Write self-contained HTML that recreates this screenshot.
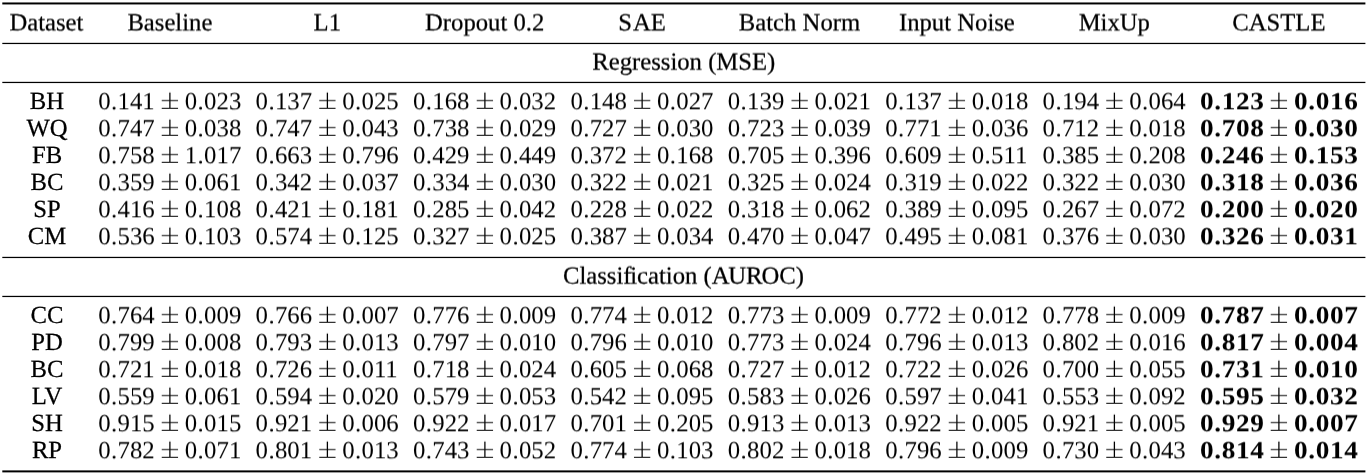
<!DOCTYPE html>
<html lang="en">
<head>
<meta charset="utf-8">
<title>Results table</title>
<style>
html,body{margin:0;padding:0;background:#fff;}
body{width:1370px;height:474px;position:relative;overflow:hidden;font-family:"Liberation Serif",serif;color:#000;text-rendering:geometricPrecision;}
.rules{position:absolute;left:0;top:0;}
.fa{filter:url(#dya);}
.fb{filter:url(#dyb);}
.n,.b{filter:url(#dyc);}
.p{filter:url(#dyd);}
.rules rect{fill:#000;}
.t,.n,.b,.p{position:absolute;white-space:nowrap;line-height:1;}
.t{-webkit-text-stroke:0.25px #000;}
.n .d{margin-left:0.4px;letter-spacing:0.3px;}
.t{font-size:24.7px;transform:translateX(-50%);}
.n{font-size:24.8px;}
.b{font-size:24.8px;font-weight:bold;letter-spacing:0.56px;transform:scaleX(1.1);transform-origin:0 0;}
.p{font-size:26.0px;font-family:"DejaVu Sans Light","DejaVu Sans",sans-serif;font-weight:200;}
.p span{display:block;clip-path:inset(18.5px 0 0 0);}
.p::after{content:"+";position:absolute;left:0;top:0;}
</style>
</head>
<body>
<svg class="rules" width="1370" height="474" viewBox="0 0 1370 474" aria-hidden="true">
<defs>
<filter id="dya" color-interpolation-filters="sRGB"><feConvolveMatrix order="1 2" kernelMatrix="0.56 0.44" divisor="1" edgeMode="none" preserveAlpha="false"/></filter>
<filter id="dyb" color-interpolation-filters="sRGB"><feConvolveMatrix order="1 2" kernelMatrix="0.35 0.65" divisor="1" edgeMode="none" preserveAlpha="false"/></filter>
<filter id="dyc" color-interpolation-filters="sRGB"><feConvolveMatrix order="1 2" kernelMatrix="0.68 0.32" divisor="1" edgeMode="none" preserveAlpha="false"/></filter>
<filter id="dyd" color-interpolation-filters="sRGB"><feConvolveMatrix order="1 2" targetY="0" kernelMatrix="0.2 0.8" divisor="1" edgeMode="none" preserveAlpha="false"/></filter>
</defs>
<rect x="2.3" y="2.46" width="1363.1" height="1.98"/>
<rect x="2.3" y="42.83" width="1363.1" height="1.24"/>
<rect x="2.3" y="81.83" width="1363.1" height="1.24"/>
<rect x="2.3" y="256.83" width="1363.1" height="1.24"/>
<rect x="2.3" y="295.83" width="1363.1" height="1.24"/>
<rect x="2.3" y="470.4" width="1363.1" height="1.98"/>
</svg>
<div role="table" aria-label="Regression (MSE) and classification (AUROC) results">
<div role="row">
<div role="columnheader" class="t fa" style="left:46.4px;top:11px">Dataset</div>
<div role="columnheader" class="t fa" style="left:169.9px;top:11px">Baseline</div>
<div role="columnheader" class="t fa" style="left:327.3px;top:11px">L1</div>
<div role="columnheader" class="t fa" style="left:484.7px;top:11px">Dropout 0.2</div>
<div role="columnheader" class="t fa" style="left:642.1px;top:11px"><span style="letter-spacing:1px">S</span>AE</div>
<div role="columnheader" class="t fa" style="left:799.5px;top:11px">Batch Norm</div>
<div role="columnheader" class="t fa" style="left:956.9px;top:11px">Input Noise</div>
<div role="columnheader" class="t fa" style="left:1114.3px;top:11px">MixUp</div>
<div role="columnheader" class="t fa" style="left:1278.9px;top:11px">CASTLE</div>
</div>
<div role="row"><div role="cell" class="t fb" style="left:683.8px;top:50px">Regression (MSE)</div></div>
<div role="row">
<div role="rowheader" class="t" style="left:47.0px;top:90px">BH</div>
<div role="cell"><span class="n" style="left:98.2px;top:90px">0<span class="d">.</span>141</span><span class="p" style="left:159.1px;top:88px"><span>±</span></span><span class="n" style="left:184.8px;top:90px">0<span class="d">.</span>023</span></div>
<div role="cell"><span class="n" style="left:255.6px;top:90px">0<span class="d">.</span>137</span><span class="p" style="left:316.5px;top:88px"><span>±</span></span><span class="n" style="left:342.2px;top:90px">0<span class="d">.</span>025</span></div>
<div role="cell"><span class="n" style="left:413.0px;top:90px">0<span class="d">.</span>168</span><span class="p" style="left:473.9px;top:88px"><span>±</span></span><span class="n" style="left:499.6px;top:90px">0<span class="d">.</span>032</span></div>
<div role="cell"><span class="n" style="left:570.4px;top:90px">0<span class="d">.</span>148</span><span class="p" style="left:631.3px;top:88px"><span>±</span></span><span class="n" style="left:657.0px;top:90px">0<span class="d">.</span>027</span></div>
<div role="cell"><span class="n" style="left:727.8px;top:90px">0<span class="d">.</span>139</span><span class="p" style="left:788.7px;top:88px"><span>±</span></span><span class="n" style="left:814.4px;top:90px">0<span class="d">.</span>021</span></div>
<div role="cell"><span class="n" style="left:885.2px;top:90px">0<span class="d">.</span>137</span><span class="p" style="left:946.1px;top:88px"><span>±</span></span><span class="n" style="left:971.8px;top:90px">0<span class="d">.</span>018</span></div>
<div role="cell"><span class="n" style="left:1042.6px;top:90px">0<span class="d">.</span>194</span><span class="p" style="left:1103.5px;top:88px"><span>±</span></span><span class="n" style="left:1129.2px;top:90px">0<span class="d">.</span>064</span></div>
<div role="cell"><span class="b" style="left:1200.0px;top:90px">0<span class="d">.</span>123</span><span class="p" style="left:1267.9px;top:88px"><span>±</span></span><span class="b" style="left:1293.9px;top:90px">0<span class="d">.</span>016</span></div>
</div>
<div role="row">
<div role="rowheader" class="t" style="left:47.0px;top:117px">WQ</div>
<div role="cell"><span class="n" style="left:98.2px;top:117px">0<span class="d">.</span>747</span><span class="p" style="left:159.1px;top:115px"><span>±</span></span><span class="n" style="left:184.8px;top:117px">0<span class="d">.</span>038</span></div>
<div role="cell"><span class="n" style="left:255.6px;top:117px">0<span class="d">.</span>747</span><span class="p" style="left:316.5px;top:115px"><span>±</span></span><span class="n" style="left:342.2px;top:117px">0<span class="d">.</span>043</span></div>
<div role="cell"><span class="n" style="left:413.0px;top:117px">0<span class="d">.</span>738</span><span class="p" style="left:473.9px;top:115px"><span>±</span></span><span class="n" style="left:499.6px;top:117px">0<span class="d">.</span>029</span></div>
<div role="cell"><span class="n" style="left:570.4px;top:117px">0<span class="d">.</span>727</span><span class="p" style="left:631.3px;top:115px"><span>±</span></span><span class="n" style="left:657.0px;top:117px">0<span class="d">.</span>030</span></div>
<div role="cell"><span class="n" style="left:727.8px;top:117px">0<span class="d">.</span>723</span><span class="p" style="left:788.7px;top:115px"><span>±</span></span><span class="n" style="left:814.4px;top:117px">0<span class="d">.</span>039</span></div>
<div role="cell"><span class="n" style="left:885.2px;top:117px">0<span class="d">.</span>771</span><span class="p" style="left:946.1px;top:115px"><span>±</span></span><span class="n" style="left:971.8px;top:117px">0<span class="d">.</span>036</span></div>
<div role="cell"><span class="n" style="left:1042.6px;top:117px">0<span class="d">.</span>712</span><span class="p" style="left:1103.5px;top:115px"><span>±</span></span><span class="n" style="left:1129.2px;top:117px">0<span class="d">.</span>018</span></div>
<div role="cell"><span class="b" style="left:1200.0px;top:117px">0<span class="d">.</span>708</span><span class="p" style="left:1267.9px;top:115px"><span>±</span></span><span class="b" style="left:1293.9px;top:117px">0<span class="d">.</span>030</span></div>
</div>
<div role="row">
<div role="rowheader" class="t" style="left:47.0px;top:144px">FB</div>
<div role="cell"><span class="n" style="left:98.2px;top:144px">0<span class="d">.</span>758</span><span class="p" style="left:159.1px;top:142px"><span>±</span></span><span class="n" style="left:184.8px;top:144px">1<span class="d">.</span>017</span></div>
<div role="cell"><span class="n" style="left:255.6px;top:144px">0<span class="d">.</span>663</span><span class="p" style="left:316.5px;top:142px"><span>±</span></span><span class="n" style="left:342.2px;top:144px">0<span class="d">.</span>796</span></div>
<div role="cell"><span class="n" style="left:413.0px;top:144px">0<span class="d">.</span>429</span><span class="p" style="left:473.9px;top:142px"><span>±</span></span><span class="n" style="left:499.6px;top:144px">0<span class="d">.</span>449</span></div>
<div role="cell"><span class="n" style="left:570.4px;top:144px">0<span class="d">.</span>372</span><span class="p" style="left:631.3px;top:142px"><span>±</span></span><span class="n" style="left:657.0px;top:144px">0<span class="d">.</span>168</span></div>
<div role="cell"><span class="n" style="left:727.8px;top:144px">0<span class="d">.</span>705</span><span class="p" style="left:788.7px;top:142px"><span>±</span></span><span class="n" style="left:814.4px;top:144px">0<span class="d">.</span>396</span></div>
<div role="cell"><span class="n" style="left:885.2px;top:144px">0<span class="d">.</span>609</span><span class="p" style="left:946.1px;top:142px"><span>±</span></span><span class="n" style="left:971.8px;top:144px">0<span class="d">.</span>511</span></div>
<div role="cell"><span class="n" style="left:1042.6px;top:144px">0<span class="d">.</span>385</span><span class="p" style="left:1103.5px;top:142px"><span>±</span></span><span class="n" style="left:1129.2px;top:144px">0<span class="d">.</span>208</span></div>
<div role="cell"><span class="b" style="left:1200.0px;top:144px">0<span class="d">.</span>246</span><span class="p" style="left:1267.9px;top:142px"><span>±</span></span><span class="b" style="left:1293.9px;top:144px">0<span class="d">.</span>153</span></div>
</div>
<div role="row">
<div role="rowheader" class="t" style="left:47.0px;top:171px">BC</div>
<div role="cell"><span class="n" style="left:98.2px;top:171px">0<span class="d">.</span>359</span><span class="p" style="left:159.1px;top:169px"><span>±</span></span><span class="n" style="left:184.8px;top:171px">0<span class="d">.</span>061</span></div>
<div role="cell"><span class="n" style="left:255.6px;top:171px">0<span class="d">.</span>342</span><span class="p" style="left:316.5px;top:169px"><span>±</span></span><span class="n" style="left:342.2px;top:171px">0<span class="d">.</span>037</span></div>
<div role="cell"><span class="n" style="left:413.0px;top:171px">0<span class="d">.</span>334</span><span class="p" style="left:473.9px;top:169px"><span>±</span></span><span class="n" style="left:499.6px;top:171px">0<span class="d">.</span>030</span></div>
<div role="cell"><span class="n" style="left:570.4px;top:171px">0<span class="d">.</span>322</span><span class="p" style="left:631.3px;top:169px"><span>±</span></span><span class="n" style="left:657.0px;top:171px">0<span class="d">.</span>021</span></div>
<div role="cell"><span class="n" style="left:727.8px;top:171px">0<span class="d">.</span>325</span><span class="p" style="left:788.7px;top:169px"><span>±</span></span><span class="n" style="left:814.4px;top:171px">0<span class="d">.</span>024</span></div>
<div role="cell"><span class="n" style="left:885.2px;top:171px">0<span class="d">.</span>319</span><span class="p" style="left:946.1px;top:169px"><span>±</span></span><span class="n" style="left:971.8px;top:171px">0<span class="d">.</span>022</span></div>
<div role="cell"><span class="n" style="left:1042.6px;top:171px">0<span class="d">.</span>322</span><span class="p" style="left:1103.5px;top:169px"><span>±</span></span><span class="n" style="left:1129.2px;top:171px">0<span class="d">.</span>030</span></div>
<div role="cell"><span class="b" style="left:1200.0px;top:171px">0<span class="d">.</span>318</span><span class="p" style="left:1267.9px;top:169px"><span>±</span></span><span class="b" style="left:1293.9px;top:171px">0<span class="d">.</span>036</span></div>
</div>
<div role="row">
<div role="rowheader" class="t" style="left:47.0px;top:198px">SP</div>
<div role="cell"><span class="n" style="left:98.2px;top:198px">0<span class="d">.</span>416</span><span class="p" style="left:159.1px;top:196px"><span>±</span></span><span class="n" style="left:184.8px;top:198px">0<span class="d">.</span>108</span></div>
<div role="cell"><span class="n" style="left:255.6px;top:198px">0<span class="d">.</span>421</span><span class="p" style="left:316.5px;top:196px"><span>±</span></span><span class="n" style="left:342.2px;top:198px">0<span class="d">.</span>181</span></div>
<div role="cell"><span class="n" style="left:413.0px;top:198px">0<span class="d">.</span>285</span><span class="p" style="left:473.9px;top:196px"><span>±</span></span><span class="n" style="left:499.6px;top:198px">0<span class="d">.</span>042</span></div>
<div role="cell"><span class="n" style="left:570.4px;top:198px">0<span class="d">.</span>228</span><span class="p" style="left:631.3px;top:196px"><span>±</span></span><span class="n" style="left:657.0px;top:198px">0<span class="d">.</span>022</span></div>
<div role="cell"><span class="n" style="left:727.8px;top:198px">0<span class="d">.</span>318</span><span class="p" style="left:788.7px;top:196px"><span>±</span></span><span class="n" style="left:814.4px;top:198px">0<span class="d">.</span>062</span></div>
<div role="cell"><span class="n" style="left:885.2px;top:198px">0<span class="d">.</span>389</span><span class="p" style="left:946.1px;top:196px"><span>±</span></span><span class="n" style="left:971.8px;top:198px">0<span class="d">.</span>095</span></div>
<div role="cell"><span class="n" style="left:1042.6px;top:198px">0<span class="d">.</span>267</span><span class="p" style="left:1103.5px;top:196px"><span>±</span></span><span class="n" style="left:1129.2px;top:198px">0<span class="d">.</span>072</span></div>
<div role="cell"><span class="b" style="left:1200.0px;top:198px">0<span class="d">.</span>200</span><span class="p" style="left:1267.9px;top:196px"><span>±</span></span><span class="b" style="left:1293.9px;top:198px">0<span class="d">.</span>020</span></div>
</div>
<div role="row">
<div role="rowheader" class="t" style="left:47.0px;top:225px">CM</div>
<div role="cell"><span class="n" style="left:98.2px;top:225px">0<span class="d">.</span>536</span><span class="p" style="left:159.1px;top:223px"><span>±</span></span><span class="n" style="left:184.8px;top:225px">0<span class="d">.</span>103</span></div>
<div role="cell"><span class="n" style="left:255.6px;top:225px">0<span class="d">.</span>574</span><span class="p" style="left:316.5px;top:223px"><span>±</span></span><span class="n" style="left:342.2px;top:225px">0<span class="d">.</span>125</span></div>
<div role="cell"><span class="n" style="left:413.0px;top:225px">0<span class="d">.</span>327</span><span class="p" style="left:473.9px;top:223px"><span>±</span></span><span class="n" style="left:499.6px;top:225px">0<span class="d">.</span>025</span></div>
<div role="cell"><span class="n" style="left:570.4px;top:225px">0<span class="d">.</span>387</span><span class="p" style="left:631.3px;top:223px"><span>±</span></span><span class="n" style="left:657.0px;top:225px">0<span class="d">.</span>034</span></div>
<div role="cell"><span class="n" style="left:727.8px;top:225px">0<span class="d">.</span>470</span><span class="p" style="left:788.7px;top:223px"><span>±</span></span><span class="n" style="left:814.4px;top:225px">0<span class="d">.</span>047</span></div>
<div role="cell"><span class="n" style="left:885.2px;top:225px">0<span class="d">.</span>495</span><span class="p" style="left:946.1px;top:223px"><span>±</span></span><span class="n" style="left:971.8px;top:225px">0<span class="d">.</span>081</span></div>
<div role="cell"><span class="n" style="left:1042.6px;top:225px">0<span class="d">.</span>376</span><span class="p" style="left:1103.5px;top:223px"><span>±</span></span><span class="n" style="left:1129.2px;top:225px">0<span class="d">.</span>030</span></div>
<div role="cell"><span class="b" style="left:1200.0px;top:225px">0<span class="d">.</span>326</span><span class="p" style="left:1267.9px;top:223px"><span>±</span></span><span class="b" style="left:1293.9px;top:225px">0<span class="d">.</span>031</span></div>
</div>
<div role="row"><div role="cell" class="t fb" style="left:683.5px;top:264px">Classi<span style="letter-spacing:-1.35px">f</span>ication (<span style="letter-spacing:-1.36px">A</span>U<span style="letter-spacing:-1px">R</span>OC)</div></div>
<div role="row">
<div role="rowheader" class="t" style="left:47.0px;top:304px">CC</div>
<div role="cell"><span class="n" style="left:98.2px;top:304px">0<span class="d">.</span>764</span><span class="p" style="left:159.1px;top:302px"><span>±</span></span><span class="n" style="left:184.8px;top:304px">0<span class="d">.</span>009</span></div>
<div role="cell"><span class="n" style="left:255.6px;top:304px">0<span class="d">.</span>766</span><span class="p" style="left:316.5px;top:302px"><span>±</span></span><span class="n" style="left:342.2px;top:304px">0<span class="d">.</span>007</span></div>
<div role="cell"><span class="n" style="left:413.0px;top:304px">0<span class="d">.</span>776</span><span class="p" style="left:473.9px;top:302px"><span>±</span></span><span class="n" style="left:499.6px;top:304px">0<span class="d">.</span>009</span></div>
<div role="cell"><span class="n" style="left:570.4px;top:304px">0<span class="d">.</span>774</span><span class="p" style="left:631.3px;top:302px"><span>±</span></span><span class="n" style="left:657.0px;top:304px">0<span class="d">.</span>012</span></div>
<div role="cell"><span class="n" style="left:727.8px;top:304px">0<span class="d">.</span>773</span><span class="p" style="left:788.7px;top:302px"><span>±</span></span><span class="n" style="left:814.4px;top:304px">0<span class="d">.</span>009</span></div>
<div role="cell"><span class="n" style="left:885.2px;top:304px">0<span class="d">.</span>772</span><span class="p" style="left:946.1px;top:302px"><span>±</span></span><span class="n" style="left:971.8px;top:304px">0<span class="d">.</span>012</span></div>
<div role="cell"><span class="n" style="left:1042.6px;top:304px">0<span class="d">.</span>778</span><span class="p" style="left:1103.5px;top:302px"><span>±</span></span><span class="n" style="left:1129.2px;top:304px">0<span class="d">.</span>009</span></div>
<div role="cell"><span class="b" style="left:1200.0px;top:304px">0<span class="d">.</span>787</span><span class="p" style="left:1267.9px;top:302px"><span>±</span></span><span class="b" style="left:1293.9px;top:304px">0<span class="d">.</span>007</span></div>
</div>
<div role="row">
<div role="rowheader" class="t" style="left:47.0px;top:331px">PD</div>
<div role="cell"><span class="n" style="left:98.2px;top:331px">0<span class="d">.</span>799</span><span class="p" style="left:159.1px;top:329px"><span>±</span></span><span class="n" style="left:184.8px;top:331px">0<span class="d">.</span>008</span></div>
<div role="cell"><span class="n" style="left:255.6px;top:331px">0<span class="d">.</span>793</span><span class="p" style="left:316.5px;top:329px"><span>±</span></span><span class="n" style="left:342.2px;top:331px">0<span class="d">.</span>013</span></div>
<div role="cell"><span class="n" style="left:413.0px;top:331px">0<span class="d">.</span>797</span><span class="p" style="left:473.9px;top:329px"><span>±</span></span><span class="n" style="left:499.6px;top:331px">0<span class="d">.</span>010</span></div>
<div role="cell"><span class="n" style="left:570.4px;top:331px">0<span class="d">.</span>796</span><span class="p" style="left:631.3px;top:329px"><span>±</span></span><span class="n" style="left:657.0px;top:331px">0<span class="d">.</span>010</span></div>
<div role="cell"><span class="n" style="left:727.8px;top:331px">0<span class="d">.</span>773</span><span class="p" style="left:788.7px;top:329px"><span>±</span></span><span class="n" style="left:814.4px;top:331px">0<span class="d">.</span>024</span></div>
<div role="cell"><span class="n" style="left:885.2px;top:331px">0<span class="d">.</span>796</span><span class="p" style="left:946.1px;top:329px"><span>±</span></span><span class="n" style="left:971.8px;top:331px">0<span class="d">.</span>013</span></div>
<div role="cell"><span class="n" style="left:1042.6px;top:331px">0<span class="d">.</span>802</span><span class="p" style="left:1103.5px;top:329px"><span>±</span></span><span class="n" style="left:1129.2px;top:331px">0<span class="d">.</span>016</span></div>
<div role="cell"><span class="b" style="left:1200.0px;top:331px">0<span class="d">.</span>817</span><span class="p" style="left:1267.9px;top:329px"><span>±</span></span><span class="b" style="left:1293.9px;top:331px">0<span class="d">.</span>004</span></div>
</div>
<div role="row">
<div role="rowheader" class="t" style="left:47.0px;top:358px">BC</div>
<div role="cell"><span class="n" style="left:98.2px;top:358px">0<span class="d">.</span>721</span><span class="p" style="left:159.1px;top:356px"><span>±</span></span><span class="n" style="left:184.8px;top:358px">0<span class="d">.</span>018</span></div>
<div role="cell"><span class="n" style="left:255.6px;top:358px">0<span class="d">.</span>726</span><span class="p" style="left:316.5px;top:356px"><span>±</span></span><span class="n" style="left:342.2px;top:358px">0<span class="d">.</span>011</span></div>
<div role="cell"><span class="n" style="left:413.0px;top:358px">0<span class="d">.</span>718</span><span class="p" style="left:473.9px;top:356px"><span>±</span></span><span class="n" style="left:499.6px;top:358px">0<span class="d">.</span>024</span></div>
<div role="cell"><span class="n" style="left:570.4px;top:358px">0<span class="d">.</span>605</span><span class="p" style="left:631.3px;top:356px"><span>±</span></span><span class="n" style="left:657.0px;top:358px">0<span class="d">.</span>068</span></div>
<div role="cell"><span class="n" style="left:727.8px;top:358px">0<span class="d">.</span>727</span><span class="p" style="left:788.7px;top:356px"><span>±</span></span><span class="n" style="left:814.4px;top:358px">0<span class="d">.</span>012</span></div>
<div role="cell"><span class="n" style="left:885.2px;top:358px">0<span class="d">.</span>722</span><span class="p" style="left:946.1px;top:356px"><span>±</span></span><span class="n" style="left:971.8px;top:358px">0<span class="d">.</span>026</span></div>
<div role="cell"><span class="n" style="left:1042.6px;top:358px">0<span class="d">.</span>700</span><span class="p" style="left:1103.5px;top:356px"><span>±</span></span><span class="n" style="left:1129.2px;top:358px">0<span class="d">.</span>055</span></div>
<div role="cell"><span class="b" style="left:1200.0px;top:358px">0<span class="d">.</span>731</span><span class="p" style="left:1267.9px;top:356px"><span>±</span></span><span class="b" style="left:1293.9px;top:358px">0<span class="d">.</span>010</span></div>
</div>
<div role="row">
<div role="rowheader" class="t" style="left:47.0px;top:385px">LV</div>
<div role="cell"><span class="n" style="left:98.2px;top:385px">0<span class="d">.</span>559</span><span class="p" style="left:159.1px;top:383px"><span>±</span></span><span class="n" style="left:184.8px;top:385px">0<span class="d">.</span>061</span></div>
<div role="cell"><span class="n" style="left:255.6px;top:385px">0<span class="d">.</span>594</span><span class="p" style="left:316.5px;top:383px"><span>±</span></span><span class="n" style="left:342.2px;top:385px">0<span class="d">.</span>020</span></div>
<div role="cell"><span class="n" style="left:413.0px;top:385px">0<span class="d">.</span>579</span><span class="p" style="left:473.9px;top:383px"><span>±</span></span><span class="n" style="left:499.6px;top:385px">0<span class="d">.</span>053</span></div>
<div role="cell"><span class="n" style="left:570.4px;top:385px">0<span class="d">.</span>542</span><span class="p" style="left:631.3px;top:383px"><span>±</span></span><span class="n" style="left:657.0px;top:385px">0<span class="d">.</span>095</span></div>
<div role="cell"><span class="n" style="left:727.8px;top:385px">0<span class="d">.</span>583</span><span class="p" style="left:788.7px;top:383px"><span>±</span></span><span class="n" style="left:814.4px;top:385px">0<span class="d">.</span>026</span></div>
<div role="cell"><span class="n" style="left:885.2px;top:385px">0<span class="d">.</span>597</span><span class="p" style="left:946.1px;top:383px"><span>±</span></span><span class="n" style="left:971.8px;top:385px">0<span class="d">.</span>041</span></div>
<div role="cell"><span class="n" style="left:1042.6px;top:385px">0<span class="d">.</span>553</span><span class="p" style="left:1103.5px;top:383px"><span>±</span></span><span class="n" style="left:1129.2px;top:385px">0<span class="d">.</span>092</span></div>
<div role="cell"><span class="b" style="left:1200.0px;top:385px">0<span class="d">.</span>595</span><span class="p" style="left:1267.9px;top:383px"><span>±</span></span><span class="b" style="left:1293.9px;top:385px">0<span class="d">.</span>032</span></div>
</div>
<div role="row">
<div role="rowheader" class="t" style="left:47.0px;top:412px">SH</div>
<div role="cell"><span class="n" style="left:98.2px;top:412px">0<span class="d">.</span>915</span><span class="p" style="left:159.1px;top:410px"><span>±</span></span><span class="n" style="left:184.8px;top:412px">0<span class="d">.</span>015</span></div>
<div role="cell"><span class="n" style="left:255.6px;top:412px">0<span class="d">.</span>921</span><span class="p" style="left:316.5px;top:410px"><span>±</span></span><span class="n" style="left:342.2px;top:412px">0<span class="d">.</span>006</span></div>
<div role="cell"><span class="n" style="left:413.0px;top:412px">0<span class="d">.</span>922</span><span class="p" style="left:473.9px;top:410px"><span>±</span></span><span class="n" style="left:499.6px;top:412px">0<span class="d">.</span>017</span></div>
<div role="cell"><span class="n" style="left:570.4px;top:412px">0<span class="d">.</span>701</span><span class="p" style="left:631.3px;top:410px"><span>±</span></span><span class="n" style="left:657.0px;top:412px">0<span class="d">.</span>205</span></div>
<div role="cell"><span class="n" style="left:727.8px;top:412px">0<span class="d">.</span>913</span><span class="p" style="left:788.7px;top:410px"><span>±</span></span><span class="n" style="left:814.4px;top:412px">0<span class="d">.</span>013</span></div>
<div role="cell"><span class="n" style="left:885.2px;top:412px">0<span class="d">.</span>922</span><span class="p" style="left:946.1px;top:410px"><span>±</span></span><span class="n" style="left:971.8px;top:412px">0<span class="d">.</span>005</span></div>
<div role="cell"><span class="n" style="left:1042.6px;top:412px">0<span class="d">.</span>921</span><span class="p" style="left:1103.5px;top:410px"><span>±</span></span><span class="n" style="left:1129.2px;top:412px">0<span class="d">.</span>005</span></div>
<div role="cell"><span class="b" style="left:1200.0px;top:412px">0<span class="d">.</span>929</span><span class="p" style="left:1267.9px;top:410px"><span>±</span></span><span class="b" style="left:1293.9px;top:412px">0<span class="d">.</span>007</span></div>
</div>
<div role="row">
<div role="rowheader" class="t" style="left:47.0px;top:439px">RP</div>
<div role="cell"><span class="n" style="left:98.2px;top:439px">0<span class="d">.</span>782</span><span class="p" style="left:159.1px;top:437px"><span>±</span></span><span class="n" style="left:184.8px;top:439px">0<span class="d">.</span>071</span></div>
<div role="cell"><span class="n" style="left:255.6px;top:439px">0<span class="d">.</span>801</span><span class="p" style="left:316.5px;top:437px"><span>±</span></span><span class="n" style="left:342.2px;top:439px">0<span class="d">.</span>013</span></div>
<div role="cell"><span class="n" style="left:413.0px;top:439px">0<span class="d">.</span>743</span><span class="p" style="left:473.9px;top:437px"><span>±</span></span><span class="n" style="left:499.6px;top:439px">0<span class="d">.</span>052</span></div>
<div role="cell"><span class="n" style="left:570.4px;top:439px">0<span class="d">.</span>774</span><span class="p" style="left:631.3px;top:437px"><span>±</span></span><span class="n" style="left:657.0px;top:439px">0<span class="d">.</span>103</span></div>
<div role="cell"><span class="n" style="left:727.8px;top:439px">0<span class="d">.</span>802</span><span class="p" style="left:788.7px;top:437px"><span>±</span></span><span class="n" style="left:814.4px;top:439px">0<span class="d">.</span>018</span></div>
<div role="cell"><span class="n" style="left:885.2px;top:439px">0<span class="d">.</span>796</span><span class="p" style="left:946.1px;top:437px"><span>±</span></span><span class="n" style="left:971.8px;top:439px">0<span class="d">.</span>009</span></div>
<div role="cell"><span class="n" style="left:1042.6px;top:439px">0<span class="d">.</span>730</span><span class="p" style="left:1103.5px;top:437px"><span>±</span></span><span class="n" style="left:1129.2px;top:439px">0<span class="d">.</span>043</span></div>
<div role="cell"><span class="b" style="left:1200.0px;top:439px">0<span class="d">.</span>814</span><span class="p" style="left:1267.9px;top:437px"><span>±</span></span><span class="b" style="left:1293.9px;top:439px">0<span class="d">.</span>014</span></div>
</div>
</div>
</body>
</html>
